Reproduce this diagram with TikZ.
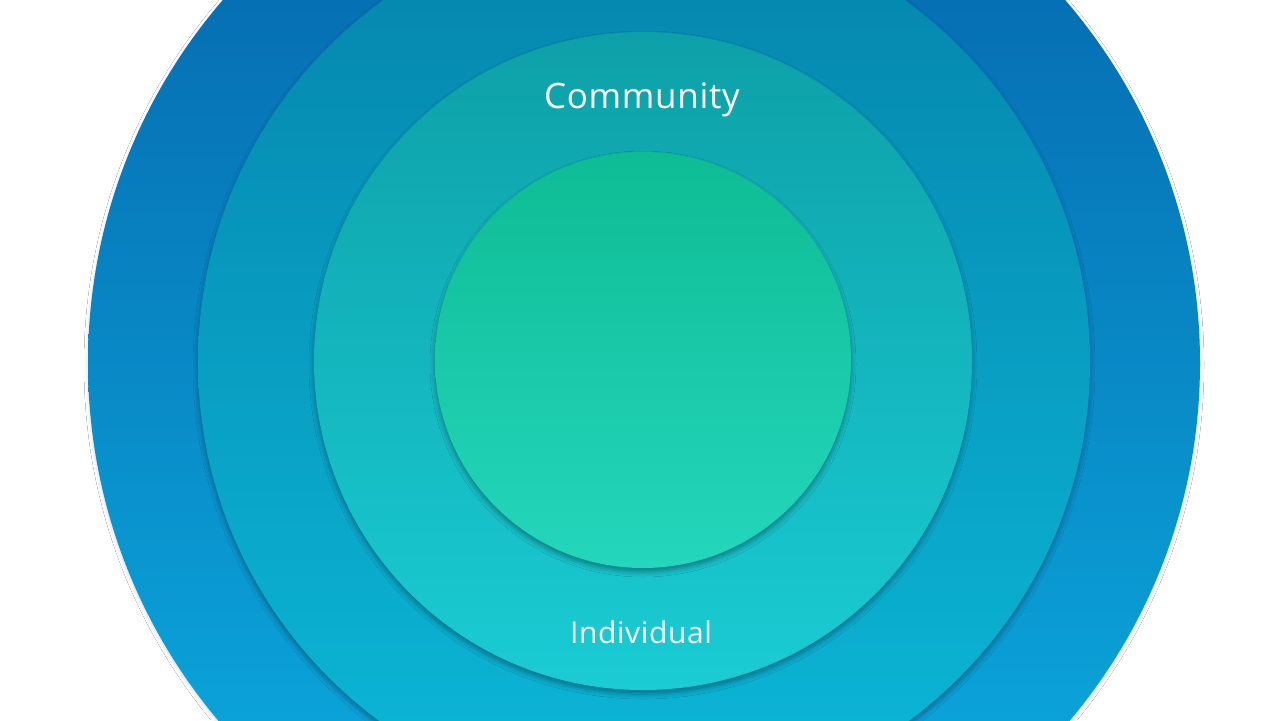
\documentclass[tikz,border=0pt]{standalone}
\usepackage{fontspec}
\newfontfamily\lblfont[LetterSpace=2]{Open Sans}
\usetikzlibrary{shadows.blur}
\definecolor{oT}{HTML}{0562AA}
\definecolor{oB}{HTML}{0CB0E2}
\definecolor{sT}{HTML}{0584AC}
\definecolor{sB}{HTML}{0CB8D8}
\definecolor{tT}{HTML}{0EA0A8}
\definecolor{tB}{HTML}{1ACCD4}
\definecolor{iT}{HTML}{0EBC94}
\definecolor{iB}{HTML}{24D6BC}
\begin{document}
\begin{tikzpicture}[x=0.5pt,y=-0.5pt,
  ringshadow/.style={blur shadow={shadow xshift=0pt,shadow yshift=-2pt,shadow blur radius=2.5pt,shadow opacity=35}},
  lbl/.style={text=white,anchor=base,inner sep=0pt}]
\useasboundingbox (0,0) rectangle (1280,720);
\clip (0,0) rectangle (1280,720);
\fill[white] (0,0) rectangle (1280,720);
\path[blur shadow={shadow xshift=0pt,shadow yshift=-1pt,shadow blur radius=2pt,shadow opacity=15}, top color=oT, bottom color=oB] (644,363) circle[radius=278pt];
\path[ringshadow, top color=sT, bottom color=sB] (644,362) circle[radius=223pt];
\path[ringshadow, top color=tT, bottom color=tB] (643,361) circle[radius=164.5pt];
\path[ringshadow, top color=iT, bottom color=iB] (643,360) circle[radius=104pt];
\node[lbl,font=\lblfont\fontsize{17.5pt}{20pt}\selectfont] (community) at (642,108) {Community};
\node[lbl,font=\lblfont\fontsize{15pt}{18pt}\selectfont] (individual) at (641,643) {Individual};
\end{tikzpicture}
\end{document}
